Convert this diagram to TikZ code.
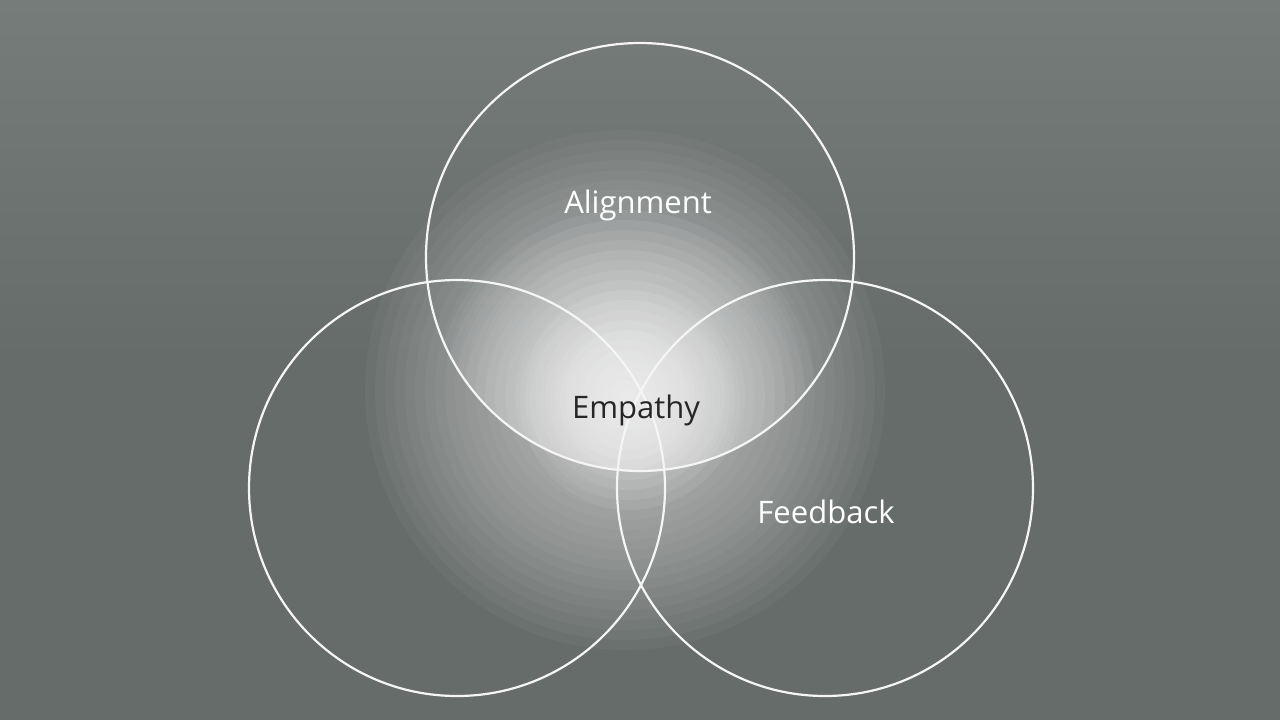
\documentclass[tikz,border=0pt]{standalone}
\usepackage{fontspec}
\setmainfont{Open Sans}
\definecolor{bg}{RGB}{102,108,106}
\definecolor{bgt}{RGB}{118,124,122}
\begin{document}
\begin{tikzpicture}[x=0.5pt,y=-0.5pt,
  ring/.style={draw=white!92!gray,line width=1.1pt},
  lbl/.style={font=\fontsize{15.5}{18}\selectfont}]
\fill[bg] (0,0) rectangle (1280,720);
\useasboundingbox (0,0) rectangle (1280,720);
\shade[top color=bgt,bottom color=bg] (0,0) rectangle (1280,360);
\foreach \r in {260,250,...,10} \fill[white,opacity=0.035] (625,390) circle (\r);
\begin{scope}
\clip (640,257) circle (214);
\foreach \r in {190,180,...,10} \fill[white,opacity=0.05] (625,400) circle (\r);
\end{scope}
\foreach \r in {110,100,...,10} \fill[white,opacity=0.06] (630,400) circle (\r);
\node[ring,circle,minimum size=214pt,inner sep=0pt] (A) at (640,257) {};
\node[ring,circle,minimum size=208pt,inner sep=0pt] (L) at (457,488) {};
\node[ring,circle,minimum size=208pt,inner sep=0pt] (R) at (825,488) {};
\node[lbl,text=white] (a) at (638,205) {Alignment};
\node[lbl,text=black!85] (e) at (636,410) {Empathy};
\node[lbl,text=white] (f) at (826,512) {Feedback};
\end{tikzpicture}
\end{document}
